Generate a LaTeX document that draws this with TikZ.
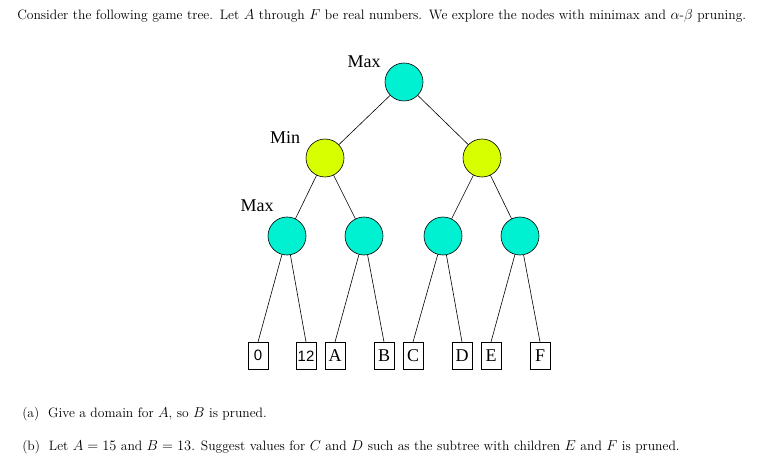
\documentclass[tikz,border=0pt]{standalone}
\usepackage{fontspec}
\newfontfamily\tms{Liberation Serif}
\newfontfamily\hel{Liberation Sans}
\begin{document}
\begin{tikzpicture}[x=1pt,y=-1pt,line width=0.6pt,
  maxn/.style={circle,draw,fill={rgb,255:red,0;green,240;blue,210},minimum size=38pt,inner sep=0},
  minn/.style={circle,draw,fill={rgb,255:red,215;green,255;blue,0},minimum size=38pt,inner sep=0},
  leaf/.style={draw,minimum width=20pt,minimum height=27pt,inner sep=0,anchor=north,font=\tms\fontsize{18}{18}\selectfont},
  nleaf/.style={leaf,font=\hel\fontsize{15}{15}\selectfont},
  lbl/.style={font=\tms\fontsize{18}{18}\selectfont},
  txt/.style={inner sep=0,font=\fontsize{13.6}{19}\selectfont}]
\useasboundingbox (0,0) rectangle (783,470);
\node[txt,anchor=north west,text width=760pt] (t) at (17,9) {Consider the following game tree. Let $A$ through $F$ be real numbers. We explore the nodes with minimax and $\alpha$-$\beta$ pruning.};
\node[maxn] (r) at (404,82) {};
\node[minn] (m1) at (325,158) {};
\node[minn] (m2) at (482,158) {};
\node[maxn] (a1) at (287,236) {};
\node[maxn] (a2) at (364,236) {};
\node[maxn] (a3) at (443,236) {};
\node[maxn] (a4) at (520,236) {};
\node[lbl] (L1) at (364,62) {Max};
\node[lbl] (L2) at (285,138) {Min};
\node[lbl] (L3) at (257,206) {Max};
\node[nleaf] (l1) at (258,342) {0};
\node[nleaf] (l2) at (306,342) {12};
\node[leaf] (l3) at (335,342) {A};
\node[leaf] (l4) at (384,342) {B};
\node[leaf] (l5) at (413,342) {C};
\node[leaf] (l6) at (462,342) {D};
\node[leaf] (l7) at (491,342) {E};
\node[leaf] (l8) at (540,342) {F};
\draw (r)--(m1) (r)--(m2) (m1)--(a1) (m1)--(a2) (m2)--(a3) (m2)--(a4)
  (a1)--(l1.north) (a1)--(l2.north) (a2)--(l3.north) (a2)--(l4.north)
  (a3)--(l5.north) (a3)--(l6.north) (a4)--(l7.north) (a4)--(l8.north);
\node[txt,anchor=west] (qa) at (22,414) {(a)\ \ Give a domain for $A$, so $B$ is pruned.};
\node[txt,anchor=west] (qb) at (22,447) {(b)\ \ Let $A=15$ and $B=13$. Suggest values for $C$ and $D$ such as the subtree with children $E$ and $F$ is pruned.};
\end{tikzpicture}
\end{document}
